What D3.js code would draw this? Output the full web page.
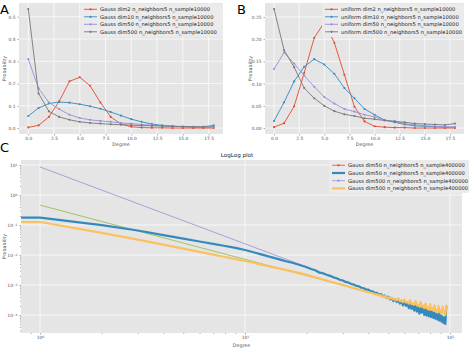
<!DOCTYPE html>
<html>
<head>
<meta charset="utf-8">
<style>
  body { margin: 0; background: #fff; }
  text { font-family: "DejaVu Sans", sans-serif; }
</style>
</head>
<body>
<div id="chart"></div>
<script src="https://cdn.jsdelivr.net/npm/d3@7"></script>
<script>
// ---- data: panels A and B (degree 0..18) ----
var degreesAB = [0,1,2,3,4,5,6,7,8,9,10,11,12,13,14,15,16,17,18];
var xTicksAB = [0, 2.5, 5, 7.5, 10, 12.5, 15, 17.5];

var labelsA = ["Gauss dim2 n_neighbors5 n_sample10000", "Gauss dim10 n_neighbors5 n_sample10000",
               "Gauss dim50 n_neighbors5 n_sample10000", "Gauss dim500 n_neighbors5 n_sample10000"];
var gaussDim2   = [0.003,0.012,0.05,0.12,0.21,0.228,0.19,0.115,0.05,0.018,0.006,0.002,0.001,0.001,0,0,0,0,0];
var gaussDim10  = [0.054,0.09,0.11,0.117,0.114,0.107,0.098,0.087,0.072,0.056,0.04,0.028,0.018,0.012,0.008,0.006,0.004,0.003,0.006];
var gaussDim50  = [0.31,0.178,0.115,0.085,0.06,0.045,0.037,0.032,0.028,0.023,0.02,0.016,0.013,0.01,0.008,0.006,0.005,0.004,0.004];
var gaussDim500 = [0.535,0.155,0.075,0.05,0.037,0.028,0.023,0.02,0.017,0.015,0.013,0.011,0.01,0.009,0.008,0.007,0.006,0.006,0.012];
var yTicksA = [0, 0.1, 0.2, 0.3, 0.4, 0.5];

var labelsB = ["uniform dim2 n_neighbors5 n_sample10000", "uniform dim10 n_neighbors5 n_sample10000",
               "uniform dim50 n_neighbors5 n_sample10000", "uniform dim500 n_neighbors5 n_sample10000"];
var uniformDim2   = [0.002,0.011,0.049,0.124,0.203,0.238,0.192,0.12,0.048,0.015,0.004,0.002,0.001,0.001,0,0,0,0,0];
var uniformDim10  = [0.016,0.058,0.105,0.138,0.155,0.143,0.122,0.09,0.067,0.043,0.03,0.018,0.013,0.008,0.005,0.004,0.003,0.002,0.002];
var uniformDim50  = [0.133,0.17,0.145,0.118,0.093,0.07,0.055,0.043,0.037,0.03,0.025,0.018,0.015,0.01,0.007,0.005,0.004,0.003,0.002];
var uniformDim500 = [0.268,0.175,0.137,0.09,0.067,0.05,0.038,0.031,0.027,0.022,0.02,0.017,0.015,0.013,0.01,0.009,0.008,0.007,0.01];
var yTicksB = [0, 0.05, 0.1, 0.15, 0.2, 0.25];

// ---- data: panel C (log-log, degree 0..96) ----
var labelsC = ["Gauss dim50 n_neighbors5 n_sample400000", "Gauss dim50 n_neighbors5 n_sample400000",
               "Gauss dim500 n_neighbors5 n_sample400000", "Gauss dim500 n_neighbors5 n_sample400000"];
var degreesC = [0,1,2,3,4,5,6,7,8,9,10,11,12,13,14,15,16,17,18,19,20,21,22,23,24,25,26,27,28,29,30,
  31,32,33,34,35,36,37,38,39,40,41,42,43,44,45,46,47,48,49,50,51,52,53,54,55,56,57,58,59,60,
  61,62,63,64,65,66,67,68,69,70,71,72,73,74,75,76,77,78,79,80,81,82,83,84,85,86,87,88,89,90,
  91,92,93,94,95,96];
var dim50C = [0.31,0.175,0.099,0.0656,0.0462,0.0352,0.0282,0.0234,0.0199,0.0173,0.0147,
  0.0123,0.0105,0.009,0.0079,0.0069,0.0061,0.0055,0.0049,0.0044,0.0039,
  0.0034,0.0031,0.0026,0.00248,0.0022,0.00202,0.0018,0.00168,0.0015,0.00141,
  0.00127,0.0012,0.00108,0.00103,0.00093,0.0009,0.00081,0.00078,0.0007,0.0007,
  0.00061,0.00062,0.00054,0.00055,0.00046,0.0005,0.00042,0.00045,0.00037,0.00041,
  0.00033,0.00037,0.00029,0.00034,0.00027,0.00031,0.00024,0.0003,0.00021,0.00027,
  0.0002,0.00026,0.00017,0.00024,0.00016,0.00023,0.00014,0.0002,0.00013,0.00019,
  0.00011,0.00017,0.00012,0.00018,0.0001,0.00016,0.000095,0.00014,0.00009,0.00015,
  0.000085,0.00013,0.00008,0.00012,0.000075,0.00011,0.00007,0.00012,0.000065,0.0001,
  0.00006,0.00009,0.000055,0.00008,0.00005,0.0002];
var dim500C = [0.535,0.126,0.055,0.0327,0.0221,0.0163,0.0127,0.0103,0.0086,0.0073,0.0063,
  0.0055,0.0048,0.00425,0.0038,0.00344,0.00313,0.00286,0.00262,0.00239,0.00217,
  0.00198,0.00181,0.00166,0.00153,0.00142,0.00131,0.00122,0.00114,0.00107,0.001,
  0.00094,0.00088,0.00083,0.00079,0.00074,0.0007,0.00067,0.00063,0.0006,0.00058,
  0.00055,0.00053,0.00049,0.00049,0.00045,0.00046,0.00041,0.00043,0.00038,0.00039,
  0.00035,0.00038,0.00033,0.00034,0.00031,0.00036,0.00029,0.0003,0.00027,0.00033,
  0.00026,0.00027,0.00024,0.00031,0.00023,0.00024,0.00022,0.00029,0.00021,0.00022,
  0.00019,0.00027,0.00019,0.0002,0.00017,0.00024,0.00017,0.00018,0.00015,0.00023,
  0.00015,0.00017,0.00014,0.00021,0.00014,0.00015,0.00012,0.0002,0.00013,0.00014,
  0.00011,0.00019,0.00012,0.00013,0.0001,0.00022];
// straight power-law reference lines (end points)
var fitDegrees = [1, 96];
var fitSteep   = [8.6, 0.000072];
var fitShallow = [0.46, 0.00012];
var xTicksC = [1, 10, 100];
var yTicksC = [10, 1, 0.1, 0.01, 0.001, 0.0001];

// ggplot style colours
var colors = ["#E24A33", "#348ABD", "#988ED5", "#777777", "#FBC15E", "#8EBA42"];

var svg = d3.select("#chart").append("svg")
    .attr("width", 474)
    .attr("height", 353)

svg.append("rect").attr("width", 474).attr("height", 353).attr("fill", "#fff")

// matplotlib style 5% padding
function padded(values) {
  var e = d3.extent(values), p = (e[1] - e[0]) * 0.05;
  return [e[0] - p, e[1] + p];
}

function styleAxis(a, size) {
  a.select(".domain").remove()
  a.selectAll("line").attr("stroke", "#555").attr("stroke-width", 0.5)
  a.selectAll("text").attr("fill", "#555").attr("font-size", size || 4.4)
    .attr("font-family", "DejaVu Sans")
}

function drawLegend(x0, y0, w, h, rowH, entries) {
  var lg = svg.append("g")
  lg.append("rect").attr("x", x0).attr("y", y0).attr("width", w).attr("height", h)
    .attr("fill", "#EBEBEB").attr("rx", 1)
  entries.forEach(function(e, i) {
    var cy = y0 + 5.3 + i * rowH
    lg.append("line").attr("x1", x0 + 3).attr("x2", x0 + 16).attr("y1", cy).attr("y2", cy)
      .attr("stroke", e.color).attr("stroke-width", e.width)
    if (e.marker) lg.append("circle").attr("cx", x0 + 9.5).attr("cy", cy).attr("r", 1.1).attr("fill", e.color)
    lg.append("text").attr("x", x0 + 19).attr("y", cy).attr("dy", "0.35em")
      .attr("font-size", 5.2).attr("fill", "#222").text(e.label)
  })
}

function linearPanel(cfg) {
  var g = svg.append("g")
  var x = d3.scaleLinear().domain(padded(cfg.x)).range([cfg.left, cfg.right])
  var y = d3.scaleLinear().domain(padded(d3.merge(cfg.series))).range([cfg.bottom, cfg.top])

  g.append("rect").attr("x", cfg.left).attr("y", cfg.top)
    .attr("width", cfg.right - cfg.left).attr("height", cfg.bottom - cfg.top).attr("fill", "#E5E5E5")
  g.selectAll(".vg").data(cfg.xTicks).enter().append("line")
    .attr("x1", x).attr("x2", x).attr("y1", cfg.top).attr("y2", cfg.bottom)
    .attr("stroke", "#fff").attr("stroke-width", 0.7)
  g.selectAll(".hg").data(cfg.yTicks).enter().append("line")
    .attr("y1", y).attr("y2", y).attr("x1", cfg.left).attr("x2", cfg.right)
    .attr("stroke", "#fff").attr("stroke-width", 0.7)

  var xa = g.append("g").attr("transform", "translate(0," + cfg.bottom + ")")
    .call(d3.axisBottom(x).tickValues(cfg.xTicks).tickFormat(d3.format(".1f")).tickSize(1.5).tickPadding(1.5))
  styleAxis(xa)
  var ya = g.append("g").attr("transform", "translate(" + cfg.left + ",0)")
    .call(d3.axisLeft(y).tickValues(cfg.yTicks).tickFormat(d3.format(cfg.yFormat)).tickSize(1.5).tickPadding(2))
  styleAxis(ya)

  g.append("text").attr("x", (cfg.left + cfg.right) / 2).attr("y", cfg.bottom + 12)
    .attr("text-anchor", "middle").attr("font-size", 4.8).attr("fill", "#555").text("Degree")
  g.append("text").attr("transform", "translate(" + (cfg.left - 13) + "," + ((cfg.top + cfg.bottom) / 2) + ") rotate(-90)")
    .attr("text-anchor", "middle").attr("font-size", 4.8).attr("fill", "#555").text("Probability")

  var line = d3.line().x(function(d, i) { return x(cfg.x[i]); }).y(function(d) { return y(d); })
  cfg.series.forEach(function(s, k) {
    g.append("path").datum(s).attr("d", line).attr("fill", "none")
      .attr("stroke", colors[k]).attr("stroke-width", 0.9)
    g.selectAll(".m" + k).data(s).enter().append("circle")
      .attr("cx", function(d, i) { return x(cfg.x[i]); }).attr("cy", y)
      .attr("r", 1.05).attr("fill", colors[k])
  })

  drawLegend(cfg.legend[0], cfg.legend[1], cfg.legend[2], 33, 7.5, cfg.labels.map(function(l, k) {
    return {label: l, color: colors[k], width: 0.9, marker: true};
  }))

  svg.append("text").attr("x", cfg.letterX).attr("y", 13.5).attr("font-size", 13)
    .attr("fill", "#000").text(cfg.letter)
}

linearPanel({
  x: degreesAB, series: [gaussDim2, gaussDim10, gaussDim50, gaussDim500], labels: labelsA,
  left: 19, right: 223, top: 3, bottom: 134, xTicks: xTicksAB, yTicks: yTicksA, yFormat: ".1f",
  legend: [81, 4, 142], letter: "A", letterX: 0
})
linearPanel({
  x: degreesAB, series: [uniformDim2, uniformDim10, uniformDim50, uniformDim500], labels: labelsB,
  left: 265, right: 464, top: 3, bottom: 134, xTicks: xTicksAB, yTicks: yTicksB, yFormat: ".2f",
  legend: [322, 4, 142], letter: "B", letterX: 237
})

// ---- panel C: log-log ----
var C = {left: 21, right: 462, top: 160, bottom: 333}
var xC = d3.scaleLog().domain([Math.pow(10, -0.093), Math.pow(10, 2.059)]).range([C.left, C.right])
var yC = d3.scaleLog().domain([Math.pow(10, -4.6), Math.pow(10, 1.167)]).range([C.bottom, C.top])
var gC = svg.append("g")

gC.append("rect").attr("x", C.left).attr("y", C.top)
  .attr("width", C.right - C.left).attr("height", C.bottom - C.top).attr("fill", "#E5E5E5")
gC.selectAll(".vg").data(xTicksC).enter().append("line")
  .attr("x1", xC).attr("x2", xC).attr("y1", C.top).attr("y2", C.bottom)
  .attr("stroke", "#fff").attr("stroke-width", 0.7)
gC.selectAll(".hg").data(yTicksC).enter().append("line")
  .attr("y1", yC).attr("y2", yC).attr("x1", C.left).attr("x2", C.right)
  .attr("stroke", "#fff").attr("stroke-width", 0.7)

function superscriptTicks(a) {
  a.selectAll(".tick text").each(function(d) {
    var t = d3.select(this), e = Math.round(Math.log10(d))
    t.text("10")
    t.append("tspan").attr("dy", "-0.45em").attr("font-size", "0.7em").text(e < 0 ? "\u2212" + (-e) : e)
  })
}

var xMinor = xC.ticks().filter(function(d) { return xTicksC.indexOf(d) < 0; })
var yMinor = yC.ticks().filter(function(d) { return yTicksC.indexOf(d) < 0; })

var xaC = gC.append("g").attr("transform", "translate(0," + C.bottom + ")")
  .call(d3.axisBottom(xC).tickValues(xTicksC).tickSize(1.5).tickPadding(1.5))
styleAxis(xaC); superscriptTicks(xaC)
gC.append("g").attr("transform", "translate(0," + C.bottom + ")")
  .call(d3.axisBottom(xC).tickValues(xMinor).tickSize(1).tickFormat(""))
  .call(styleAxis)
var yaC = gC.append("g").attr("transform", "translate(" + C.left + ",0)")
  .call(d3.axisLeft(yC).tickValues(yTicksC).tickSize(1.5).tickPadding(2))
styleAxis(yaC); superscriptTicks(yaC)
gC.append("g").attr("transform", "translate(" + C.left + ",0)")
  .call(d3.axisLeft(yC).tickValues(yMinor).tickSize(1).tickFormat(""))
  .call(styleAxis)

gC.append("text").attr("x", (C.left + C.right) / 2).attr("y", C.bottom + 14)
  .attr("text-anchor", "middle").attr("font-size", 4.8).attr("fill", "#555").text("Degree")
gC.append("text").attr("transform", "translate(" + (C.left - 15) + "," + ((C.top + C.bottom) / 2) + ") rotate(-90)")
  .attr("text-anchor", "middle").attr("font-size", 4.8).attr("fill", "#555").text("Probability")
gC.append("text").attr("x", 237).attr("y", 157).attr("text-anchor", "middle")
  .attr("font-size", 5.6).attr("fill", "#222").text("LogLog plot")

svg.append("defs").append("clipPath").attr("id", "clipC").append("rect")
  .attr("x", C.left).attr("y", C.top).attr("width", C.right - C.left).attr("height", C.bottom - C.top)
var plotC = gC.append("g").attr("clip-path", "url(#clipC)")

// degree 0 is clipped to the left edge like matplotlib does for log axes
var lineC = function(vals) {
  return d3.line()
    .x(function(d, i) { return degreesC[i] > 0 ? xC(degreesC[i]) : C.left - 1; })
    .y(function(d, i) { return yC(degreesC[i] > 0 ? d : vals[i + 1]); })(vals)
}
var lineFit = d3.line().x(function(d, i) { return xC(fitDegrees[i]); }).y(function(d) { return yC(d); })

plotC.append("path").attr("d", lineFit(fitSteep)).attr("fill", "none").attr("stroke", colors[2]).attr("stroke-width", 0.8)
plotC.append("path").attr("d", lineFit(fitShallow)).attr("fill", "none").attr("stroke", colors[5]).attr("stroke-width", 0.8)
plotC.append("path").attr("d", lineC(dim50C)).attr("fill", "none").attr("stroke", colors[1])
  .attr("stroke-width", 2.2).attr("stroke-linejoin", "round")
plotC.append("path").attr("d", lineC(dim500C)).attr("fill", "none").attr("stroke", colors[4])
  .attr("stroke-width", 2.2).attr("stroke-linejoin", "round")

drawLegend(329, 160, 140, 33, 7.7, [
  {label: labelsC[0], color: colors[0], width: 0.8, marker: true},
  {label: labelsC[1], color: colors[1], width: 2.2, marker: false},
  {label: labelsC[2], color: colors[2], width: 0.8, marker: true},
  {label: labelsC[3], color: colors[4], width: 2.2, marker: false}
])

svg.append("text").attr("x", 0).attr("y", 152).attr("font-size", 13).attr("fill", "#000").text("C")
</script>
</body>
</html>
